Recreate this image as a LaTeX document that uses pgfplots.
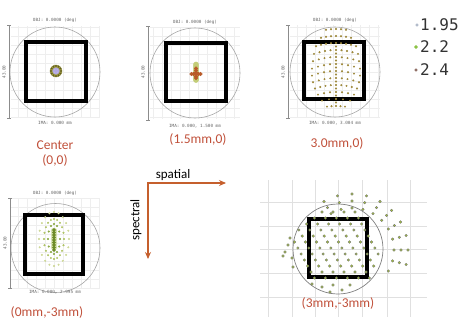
\documentclass[border=0pt]{standalone}
\usepackage{fontspec}
\setmainfont{Carlito}
\newfontfamily\mono{DejaVu Sans Mono}
\usepackage{pgfplots}
\pgfplotsset{compat=1.18}
\usetikzlibrary{arrows.meta}
\definecolor{labred}{RGB}{192,80,58}
\definecolor{arrowc}{RGB}{197,95,45}
\definecolor{gridc}{RGB}{238,238,238}
\definecolor{circc}{RGB}{165,165,165}
\definecolor{olivec}{RGB}{160,155,60}
\definecolor{lav}{RGB}{175,165,225}
\definecolor{ptwog}{RGB}{195,205,120}
\definecolor{ptwob}{RGB}{185,90,40}
\definecolor{pthree}{RGB}{140,140,55}
\definecolor{pfa}{RGB}{205,215,150}
\definecolor{pfb}{RGB}{175,195,100}
\definecolor{pfc}{RGB}{140,170,70}
\definecolor{pfd}{RGB}{110,140,40}
\definecolor{psix}{RGB}{165,195,60}
\definecolor{lgA}{RGB}{175,185,200}
\definecolor{lgB}{RGB}{140,195,70}
\definecolor{lgC}{RGB}{140,105,95}
\begin{document}
\begin{tikzpicture}
\begin{axis}[width=474pt,height=324pt,scale only axis,
  xmin=0,xmax=474,ymin=0,ymax=324,y dir=reverse,hide axis,clip=false]
\path (axis cs:0,0) rectangle (axis cs:474,324);
% ---------- grids
\draw[gridc,step=9pt] (axis cs:11,26) grid (axis cs:100,117);
\draw[gridc,step=9pt] (axis cs:150,27) grid (axis cs:240,119);
\draw[gridc,step=9pt] (axis cs:290,25) grid (axis cs:380,117);
\draw[gridc,step=9pt] (axis cs:11,198) grid (axis cs:100,288);
% panel 6 grid
\draw[black!12,line width=0.6pt] (axis cs:268,180)--(axis cs:268,317) (axis cs:292,180)--(axis cs:292,317)
  (axis cs:315,180)--(axis cs:315,317) (axis cs:338,180)--(axis cs:338,317) (axis cs:362,180)--(axis cs:362,317)
  (axis cs:387,180)--(axis cs:387,317) (axis cs:410,180)--(axis cs:410,317)
  (axis cs:260,202)--(axis cs:427,202) (axis cs:260,226)--(axis cs:427,226) (axis cs:260,249)--(axis cs:427,249)
  (axis cs:260,273)--(axis cs:427,273) (axis cs:260,297)--(axis cs:427,297);
% ---------- circles
\draw[circc,line width=0.6pt] (axis cs:55,72) circle[radius=45];
\draw[circc,line width=0.6pt] (axis cs:195,73) circle[radius=45];
\draw[circc,line width=0.6pt] (axis cs:335,72) circle[radius=45];
\draw[circc,line width=0.6pt] (axis cs:55.5,248) circle[radius=44.5];
\draw[gray,line width=0.7pt] (axis cs:338,249) circle[radius=45];
% ---------- squares
\draw[black,line width=3.8pt] (axis cs:26,42) rectangle (axis cs:86,101);
\draw[black,line width=3.8pt] (axis cs:166,43) rectangle (axis cs:226,101);
\draw[black,line width=3.8pt] (axis cs:304,42) rectangle (axis cs:364,99);
\draw[black,line width=3.8pt] (axis cs:25,215) rectangle (axis cs:83,274);
\draw[black,line width=3.8pt] (axis cs:309,219) rectangle (axis cs:367,277);
% ---------- dimension lines
\draw[black!45,line width=0.4pt] (axis cs:9,25)--(axis cs:9,118) (axis cs:7,25)--(axis cs:11,25) (axis cs:7,118)--(axis cs:11,118);
\draw[black!45,line width=0.4pt] (axis cs:148,26)--(axis cs:148,120) (axis cs:146,26)--(axis cs:150,26) (axis cs:146,120)--(axis cs:150,120);
\draw[black!45,line width=0.4pt] (axis cs:288,25)--(axis cs:288,118) (axis cs:286,25)--(axis cs:290,25) (axis cs:286,118)--(axis cs:290,118);
\draw[black!45,line width=0.4pt] (axis cs:10,198)--(axis cs:10,288) (axis cs:8,198)--(axis cs:12,198) (axis cs:8,288)--(axis cs:12,288);
% ---------- tiny texts
\tikzset{tiny/.style={font=\mono\fontsize{4.3}{5}\selectfont,text=black!60,inner sep=0pt}}
\node[tiny] at (axis cs:55,20) {OBJ: 0.0000 (deg)};
\node[tiny] at (axis cs:55,123) {IMA: 0.000 mm};
\node[tiny,rotate=90] at (axis cs:4,72) {43.00};
\node[tiny] at (axis cs:195,22) {OBJ: 0.0000 (deg)};
\node[tiny] at (axis cs:195,126) {IMA: 0.000, 1.500 mm};
\node[tiny,rotate=90] at (axis cs:143,72) {43.00};
\node[tiny] at (axis cs:335,20) {OBJ: 0.0000 (deg)};
\node[tiny] at (axis cs:335,123) {IMA: 0.000, 3.004 mm};
\node[tiny,rotate=90] at (axis cs:283,72) {43.00};
\node[tiny] at (axis cs:55,193) {OBJ: 0.0000 (deg)};
\node[tiny] at (axis cs:55,292) {IMA: 0.000, 2.995 mm};
\node[tiny,rotate=90] at (axis cs:5,243) {43.00};
% ---------- labels
\tikzset{lab/.style={font=\fontsize{13.5}{15}\selectfont,text=labred,inner sep=0pt}}
\node[lab] at (axis cs:55,145) {Center};
\node[lab] at (axis cs:55,160) {(0,0)};
\node[lab] at (axis cs:198,139) {(1.5mm,0)};
\node[lab] at (axis cs:337,143) {3.0mm,0)};
\node[lab] at (axis cs:47,312) {(0mm,-3mm)};
\node[lab] at (axis cs:338,303) {(3mm,-3mm)};
% ---------- arrows
\draw[arrowc,line width=1.6pt,-{Stealth[length=7pt,width=6pt]}] (axis cs:147.2,183)--(axis cs:226,183);
\draw[arrowc,line width=1.6pt,-{Stealth[length=7pt,width=6pt]}] (axis cs:148,182.2)--(axis cs:148,259);
\node[font=\fontsize{13}{15}\selectfont,inner sep=0pt] at (axis cs:173,175) {spatial};
\node[font=\fontsize{13}{15}\selectfont,inner sep=0pt,rotate=90] at (axis cs:136,220) {spectral};
% ---------- legend
\addplot[only marks,mark=*,mark size=1.4pt,color=lgA] coordinates {(417,25)};
\addplot[only marks,mark=*,mark size=1.6pt,color=lgB] coordinates {(416,47)};
\addplot[only marks,mark=*,mark size=1.4pt,color=lgC] coordinates {(416,70)};
\tikzset{lg/.style={font=\mono\fontsize{16}{18}\selectfont,text=black!80,anchor=west,inner sep=0pt}}
\node[lg] at (axis cs:420,25) {1.95};
\node[lg] at (axis cs:420,47) {2.2};
\node[lg] at (axis cs:420,70) {2.4};
% ---------- panel 1 spot
\addplot[only marks,mark=*,mark size=6pt,mark options={fill=olivec,draw=olivec!80!black}] coordinates {(56,71)};
\addplot[only marks,mark=*,mark size=3.3pt,mark options={fill=lav,draw=lav}] coordinates {(56,71)};
\addplot[only marks,mark=*,mark size=0.6pt,color=olivec!60!black] coordinates {
(61,71)(60.3,73.5)(58.5,75.3)(56,76)(53.5,75.3)(51.7,73.5)(51,71)(51.7,68.5)(53.5,66.7)(56,66)(58.5,66.7)(60.3,68.5)};
\addplot[only marks,mark=*,mark size=0.45pt,color=lav!80!white] coordinates {
(56,71)(58,71)(54,71)(56,69)(56,73)(57.4,72.4)(54.6,69.6)(57.4,69.6)(54.6,72.4)};
% ---------- panel 2 spot
\addplot[only marks,mark=*,mark size=2.6pt,color=ptwog] coordinates {
(196,64.5)(196,66.5)(196,68.5)(196,70.5)(196,72.5)(196,74.5)(196,76.5)(196,78.5)(196,80)};
\addplot[only marks,mark=*,mark size=1.9pt,color=ptwob] coordinates {
(196,68.5)(196,70.5)(196,72.5)(196,74.5)(196,76.5)(196,78)(191.5,74)(193.5,74)(198.5,74)(200.5,74)};
% ---------- panel 3 spots
\addplot[only marks,mark=*,mark size=0.8pt,mark options={fill=pthree,draw=pthree!60!brown}] coordinates {
(326,29.8)(331,29.2)(336,29)(341,29.2)(346,29.8)
(321,37.8)(326,36.8)(331,36.2)(336,36)(341,36.2)(346,36.8)(351,37.8)
(316,46.2)(321,44.8)(326,43.8)(331,43.2)(336,43)(341,43.2)(346,43.8)(351,44.8)(356,46.2)
(314,53.9)(319.5,52.2)(325,51)(330.5,50.2)(336,50)(341.5,50.2)(347,51)(352.5,52.2)(358,53.9)
(313,61.2)(318.8,59.4)(324.5,58.1)(330.3,57.3)(336,57)(341.8,57.3)(347.5,58.1)(353.3,59.4)(359,61.2)
(312,68.6)(318,66.6)(324,65.2)(330,64.3)(336,64)(342,64.3)(348,65.2)(354,66.6)(360,68.6)
(312,75.6)(318,73.6)(324,72.2)(330,71.3)(336,71)(342,71.3)(348,72.2)(354,73.6)(360,75.6)
(313,82.2)(318.8,80.4)(324.5,79.1)(330.3,78.3)(336,78)(341.8,78.3)(347.5,79.1)(353.3,80.4)(359,82.2)
(315,88.5)(320.3,87)(325.5,85.9)(330.8,85.2)(336,85)(341.3,85.2)(346.5,85.9)(351.8,87)(357,88.5)
(318,94.6)(324,93.2)(330,92.3)(336,92)(342,92.3)(348,93.2)(354,94.6)
(322,100.6)(329,99.4)(336,99)(343,99.4)(350,100.6)
(327,106.6)(331.5,106.2)(336,106)(340.5,106.2)(345,106.6)
(336,46.5)(336,53.5)(336,60.5)(336,67.5)(336,74.5)(336,81.5)(336,88.5)(336,95.5)(336,102.5)};
% ---------- panel 4 spots
\addplot[only marks,mark=*,mark size=0.8pt,color=pfa] coordinates {
(69,239)(68.3,247.3)(66.1,254.9)(62.8,260.8)(58.6,264.7)(54,266)(49.4,264.7)(45.2,260.8)(41.9,254.9)(39.7,247.3)
(39,239)(39.7,230.7)(41.9,223.1)(45.2,217.2)(49.4,213.3)(54,212)(58.6,213.3)(62.8,217.2)(66.1,223.1)(68.3,230.7)};
\addplot[only marks,mark=*,mark size=0.8pt,color=pfb] coordinates {
(64,239)(63.5,245.2)(62.1,250.8)(59.9,255.2)(57.1,258)(54,259)(50.9,258)(48.1,255.2)(45.9,250.8)(44.5,245.2)
(44,239)(44.5,232.8)(45.9,227.2)(48.1,222.8)(50.9,220)(54,219)(57.1,220)(59.9,222.8)(62.1,227.2)(63.5,232.8)};
\addplot[only marks,mark=*,mark size=0.8pt,color=pfc] coordinates {
(60,239)(59.2,246.5)(57,252)(54,254)(51,252)(48.8,246.5)(48,239)(48.8,231.5)(51,226)(54,224)(57,226)(59.2,231.5)};
\addplot[only marks,mark=*,mark size=3pt,color=pfb!55] coordinates {
(54,231)(54,235)(54,239)(54,243)(54,247)};
\addplot[only marks,mark=*,mark size=1.6pt,color=pfd] coordinates {
(54,230)(54,232.5)(54,235)(54,237.5)(54,240)(54,242.5)(54,245)(54,247.5)(54,250)};
% ---------- panel 6 spots
\addplot[only marks,mark=*,mark size=1.3pt,mark options={fill=psix,draw=black!55,line width=0.35pt}] coordinates {
(331,213.6)(341.1,209.4)(352,208)(362.9,209.4)(373,213.6)(381.7,220.3)(388.4,229)(392.6,239.1)(394,250)(392.6,260.9)(388.4,271)
(327.5,207.6)(339.3,202.7)(352,201)(364.7,202.7)(376.5,207.6)(386.6,215.4)(394.4,225.5)(399.3,237.3)(401,250)(399.3,262.7)
(324,201.5)(337.5,195.9)(352,194)(366.5,195.9)(380,201.5)(391.6,210.4)(400.5,222)(406.1,235.5)(408,250)(406.1,264.5)
(294.5,242)(297.8,248)(301.1,254)(304.4,260)(307.7,266)(311,272)(314.3,278)
(298.9,230)(302.2,236)(305.5,242)(308.8,248)(312.1,254)(315.4,260)(318.7,266)(322,272)(325.3,278)
(306.6,224)(309.9,230)(313.2,236)(316.5,242)(319.8,248)(323.1,254)(326.4,260)(329.7,266)(333,272)(336.3,278)
(314.3,218)(317.6,224)(320.9,230)(324.2,236)(327.5,242)(330.8,248)(334.1,254)(337.4,260)(340.7,266)(344,272)(347.3,278)
(322,212)(325.3,218)(328.6,224)(331.9,230)(335.2,236)(338.5,242)(341.8,248)(345.1,254)(348.4,260)(351.7,266)(355,272)(358.3,278)
(333,212)(336.3,218)(339.6,224)(342.9,230)(346.2,236)(349.5,242)(352.8,248)(356.1,254)(359.4,260)(362.7,266)(366,272)(369.3,278)
(344,212)(347.3,218)(350.6,224)(353.9,230)(357.2,236)(360.5,242)(363.8,248)(367.1,254)(370.4,260)(373.7,266)
(355,212)(358.3,218)(361.6,224)(364.9,230)(368.2,236)(371.5,242)(374.8,248)(378.1,254)
(285,252)(288,245)(292,258)(293,267)(290,238)(283,256)
(322,287)(333,285)(350,285)(330,292)(342,290)(312,284)};
\end{axis}
\end{tikzpicture}
\end{document}
